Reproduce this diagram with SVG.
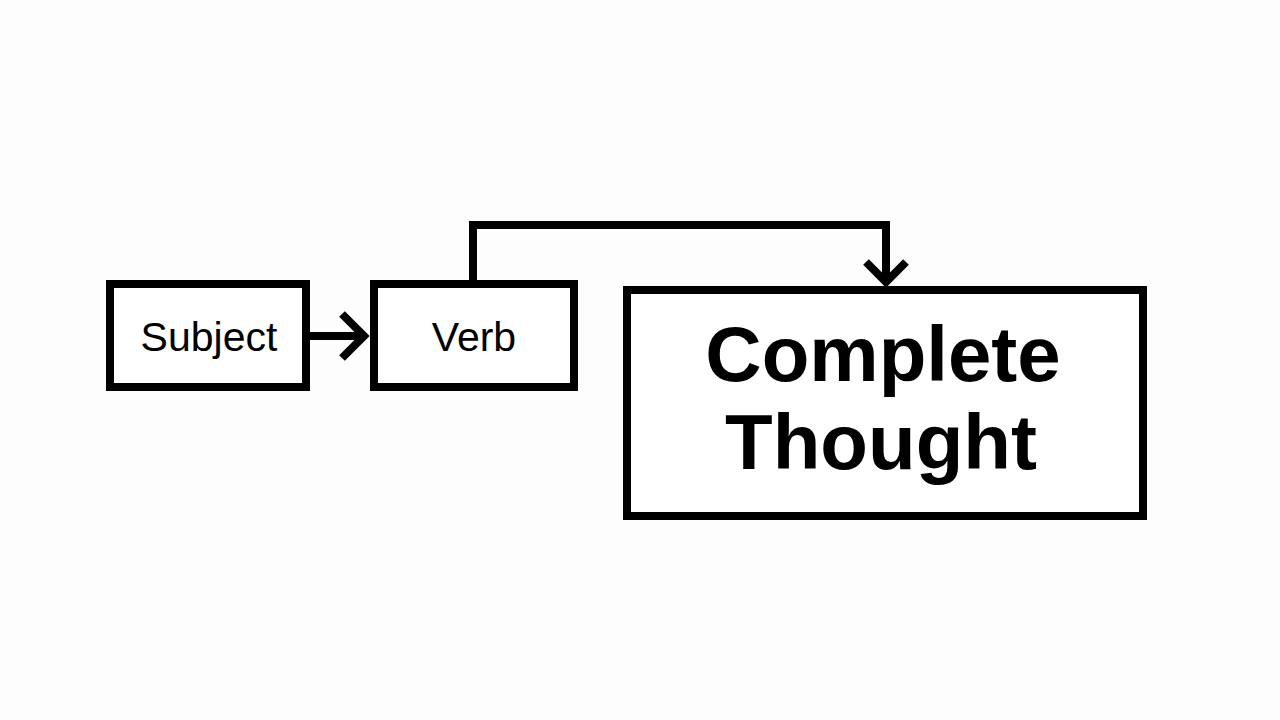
<svg xmlns="http://www.w3.org/2000/svg" width="1280" height="720" viewBox="0 0 1280 720">
<style>
.box{fill:#fff;stroke:#000;stroke-width:8}
.ln{fill:none;stroke:#000;stroke-width:8}
.t{font-family:"Liberation Sans",Arial,sans-serif;text-anchor:middle;fill:#000}
</style>
<rect width="1280" height="720" fill="#fdfdfd"/>
<g id="connectors">
<line class="ln" x1="307" y1="336" x2="364" y2="336"/>
<polyline class="ln" points="342,314 364,336 342,358"/>
<polyline class="ln" points="473,282 473,225 886,225 886,282"/>
<polyline class="ln" points="866,262 886,282 906,262"/>
</g>
<g id="subject"><rect class="box" x="110" y="284" width="196" height="103"/><text class="t" x="209" y="351" font-size="41">Subject</text></g>
<g id="verb"><rect class="box" x="374" y="284" width="200" height="103"/><text class="t" x="474" y="351" font-size="41">Verb</text></g>
<g id="thought"><rect class="box" x="627" y="290" width="516" height="226"/>
<text class="t" x="883" y="381" font-size="78" font-weight="bold">Complete</text>
<text class="t" x="881" y="469" font-size="78" font-weight="bold">Thought</text></g>
</svg>
